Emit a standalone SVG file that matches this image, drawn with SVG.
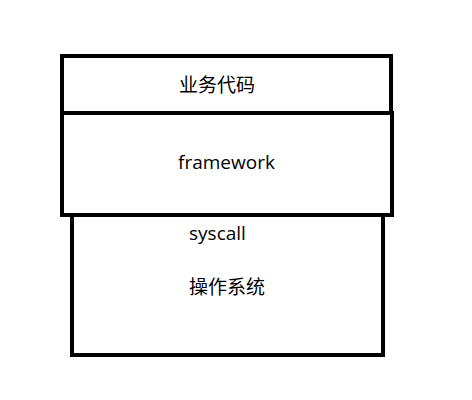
<svg xmlns="http://www.w3.org/2000/svg" width="472" height="400" viewBox="0 0 472 400">
<style>
.box{fill:#fff;stroke:#000;stroke-width:4}
.t{font-family:"Open Sans","Noto Sans CJK SC",sans-serif;font-size:19px;fill:#000}
</style>
<rect width="472" height="400" fill="#fff"/>
<g id="os">
<rect class="box" x="72" y="200" width="311" height="155"/>
<text class="t" x="189" y="240">syscall</text>
<text class="t" x="189" y="294">操作系统</text>
</g>
<g id="business">
<rect class="box" x="62" y="56" width="329" height="57"/>
<text class="t" x="179" y="92">业务代码</text>
</g>
<g id="framework">
<rect class="box" x="62" y="113" width="330" height="102"/>
<text class="t" x="178" y="169">framework</text>
</g>
<g id="connectors"/>
</svg>
